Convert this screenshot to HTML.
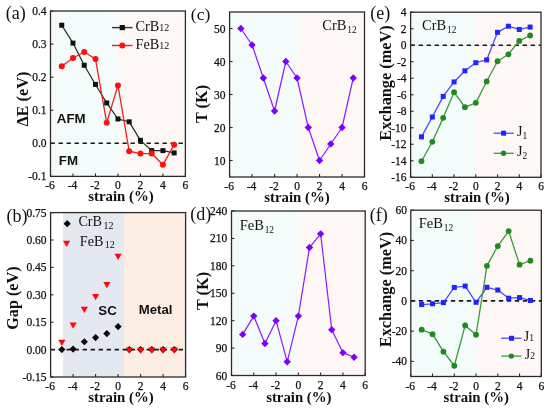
<!DOCTYPE html>
<html><head><meta charset="utf-8"><title>Figure</title>
<style>html,body{margin:0;padding:0;background:#fff;width:550px;height:409px;overflow:hidden}svg{display:block;will-change:transform}</style></head><body>
<svg width="550" height="409" viewBox="0 0 550 409">
<rect x="0" y="0" width="550" height="409" fill="#ffffff"/>
<rect x="50.5" y="11" width="67.45" height="165.4" fill="#f3fbfb"/>
<rect x="117.95" y="11" width="67.45" height="165.4" fill="#fdf8f5"/>
<line x1="50.5" y1="143.32" x2="185.4" y2="143.32" stroke="#1a1a1a" stroke-width="1.6" stroke-dasharray="4.4 3.6"/>
<polyline points="61.74,25.22 72.98,43.09 84.22,65.25 95.47,84.44 106.71,102.96 117.95,118.97 129.19,121.82 140.43,140.34 151.68,150.6 162.92,150.6 174.16,152.91" fill="none" stroke="#262626" stroke-width="1.2" stroke-linejoin="round"/>
<polyline points="61.74,66.24 72.98,57.97 84.22,52.02 95.47,58.97 106.71,122.81 117.95,85.43 129.19,151.26 140.43,153.57 151.68,153.57 162.92,164.82 174.16,144.64" fill="none" stroke="#f02020" stroke-width="1.3" stroke-linejoin="round"/>
<rect x="59.24" y="22.72" width="5" height="5" fill="#111111"/>
<rect x="70.48" y="40.59" width="5" height="5" fill="#111111"/>
<rect x="81.72" y="62.75" width="5" height="5" fill="#111111"/>
<rect x="92.97" y="81.94" width="5" height="5" fill="#111111"/>
<rect x="104.21" y="100.46" width="5" height="5" fill="#111111"/>
<rect x="115.45" y="116.47" width="5" height="5" fill="#111111"/>
<rect x="126.69" y="119.32" width="5" height="5" fill="#111111"/>
<rect x="137.93" y="137.84" width="5" height="5" fill="#111111"/>
<rect x="149.18" y="148.1" width="5" height="5" fill="#111111"/>
<rect x="160.42" y="148.1" width="5" height="5" fill="#111111"/>
<rect x="171.66" y="150.41" width="5" height="5" fill="#111111"/>
<circle cx="61.74" cy="66.24" r="3" fill="#ff1010"/>
<circle cx="72.98" cy="57.97" r="3" fill="#ff1010"/>
<circle cx="84.22" cy="52.02" r="3" fill="#ff1010"/>
<circle cx="95.47" cy="58.97" r="3" fill="#ff1010"/>
<circle cx="106.71" cy="122.81" r="3" fill="#ff1010"/>
<circle cx="117.95" cy="85.43" r="3" fill="#ff1010"/>
<circle cx="129.19" cy="151.26" r="3" fill="#ff1010"/>
<circle cx="140.43" cy="153.57" r="3" fill="#ff1010"/>
<circle cx="151.68" cy="153.57" r="3" fill="#ff1010"/>
<circle cx="162.92" cy="164.82" r="3" fill="#ff1010"/>
<circle cx="174.16" cy="144.64" r="3" fill="#ff1010"/>
<line x1="112" y1="27.6" x2="132.6" y2="27.6" stroke="#333" stroke-width="1.4"/>
<rect x="119.7" y="25" width="5.2" height="5.2" fill="#111111"/>
<line x1="112" y1="45.5" x2="132.6" y2="45.5" stroke="#f02020" stroke-width="1.4"/>
<circle cx="122.3" cy="45.5" r="3" fill="#ff1010"/>
<text x="135.5" y="31.4" font-size="14.3" font-family='"Liberation Serif", serif' fill="#111111">CrB<tspan font-size="10" dx="0" dy="0">12</tspan></text>
<text x="135.5" y="48.8" font-size="14.3" font-family='"Liberation Serif", serif' fill="#111111">FeB<tspan font-size="10" dx="0" dy="0">12</tspan></text>
<text x="56.8" y="122.9" font-size="13.3" text-anchor="start" font-weight="bold" font-family='"Liberation Sans", sans-serif' fill="#111" >AFM</text>
<text x="58.8" y="165.1" font-size="13.3" text-anchor="start" font-weight="bold" font-family='"Liberation Sans", sans-serif' fill="#111" >FM</text>
<rect x="50.5" y="11" width="134.9" height="165.4" fill="none" stroke="#2b2b2b" stroke-width="1.3"/>
<line x1="50.5" y1="176.4" x2="50.5" y2="173.4" stroke="#2b2b2b" stroke-width="1.1"/>
<text x="50" y="189.3" font-size="11.5" text-anchor="middle" font-weight="normal" font-family='"Liberation Serif", serif' fill="#111111" stroke="#111" stroke-width="0.25">-6</text>
<line x1="72.98" y1="176.4" x2="72.98" y2="173.4" stroke="#2b2b2b" stroke-width="1.1"/>
<text x="72.48" y="189.3" font-size="11.5" text-anchor="middle" font-weight="normal" font-family='"Liberation Serif", serif' fill="#111111" stroke="#111" stroke-width="0.25">-4</text>
<line x1="95.47" y1="176.4" x2="95.47" y2="173.4" stroke="#2b2b2b" stroke-width="1.1"/>
<text x="94.97" y="189.3" font-size="11.5" text-anchor="middle" font-weight="normal" font-family='"Liberation Serif", serif' fill="#111111" stroke="#111" stroke-width="0.25">-2</text>
<line x1="117.95" y1="176.4" x2="117.95" y2="173.4" stroke="#2b2b2b" stroke-width="1.1"/>
<text x="117.95" y="189.3" font-size="11.5" text-anchor="middle" font-weight="normal" font-family='"Liberation Serif", serif' fill="#111111" stroke="#111" stroke-width="0.25">0</text>
<line x1="140.43" y1="176.4" x2="140.43" y2="173.4" stroke="#2b2b2b" stroke-width="1.1"/>
<text x="140.43" y="189.3" font-size="11.5" text-anchor="middle" font-weight="normal" font-family='"Liberation Serif", serif' fill="#111111" stroke="#111" stroke-width="0.25">2</text>
<line x1="162.92" y1="176.4" x2="162.92" y2="173.4" stroke="#2b2b2b" stroke-width="1.1"/>
<text x="162.92" y="189.3" font-size="11.5" text-anchor="middle" font-weight="normal" font-family='"Liberation Serif", serif' fill="#111111" stroke="#111" stroke-width="0.25">4</text>
<line x1="185.4" y1="176.4" x2="185.4" y2="173.4" stroke="#2b2b2b" stroke-width="1.1"/>
<text x="185.4" y="189.3" font-size="11.5" text-anchor="middle" font-weight="normal" font-family='"Liberation Serif", serif' fill="#111111" stroke="#111" stroke-width="0.25">6</text>
<line x1="50.5" y1="11" x2="53.5" y2="11" stroke="#2b2b2b" stroke-width="1.1"/>
<text x="46.5" y="15" font-size="11.5" text-anchor="end" font-weight="normal" font-family='"Liberation Serif", serif' fill="#111111" stroke="#111" stroke-width="0.25">0.4</text>
<line x1="50.5" y1="44.08" x2="53.5" y2="44.08" stroke="#2b2b2b" stroke-width="1.1"/>
<text x="46.5" y="48.08" font-size="11.5" text-anchor="end" font-weight="normal" font-family='"Liberation Serif", serif' fill="#111111" stroke="#111" stroke-width="0.25">0.3</text>
<line x1="50.5" y1="77.16" x2="53.5" y2="77.16" stroke="#2b2b2b" stroke-width="1.1"/>
<text x="46.5" y="81.16" font-size="11.5" text-anchor="end" font-weight="normal" font-family='"Liberation Serif", serif' fill="#111111" stroke="#111" stroke-width="0.25">0.2</text>
<line x1="50.5" y1="110.24" x2="53.5" y2="110.24" stroke="#2b2b2b" stroke-width="1.1"/>
<text x="46.5" y="114.24" font-size="11.5" text-anchor="end" font-weight="normal" font-family='"Liberation Serif", serif' fill="#111111" stroke="#111" stroke-width="0.25">0.1</text>
<line x1="50.5" y1="143.32" x2="53.5" y2="143.32" stroke="#2b2b2b" stroke-width="1.1"/>
<text x="46.5" y="147.32" font-size="11.5" text-anchor="end" font-weight="normal" font-family='"Liberation Serif", serif' fill="#111111" stroke="#111" stroke-width="0.25">0.0</text>
<line x1="50.5" y1="176.4" x2="53.5" y2="176.4" stroke="#2b2b2b" stroke-width="1.1"/>
<text x="46.5" y="180.4" font-size="11.5" text-anchor="end" font-weight="normal" font-family='"Liberation Serif", serif' fill="#111111" stroke="#111" stroke-width="0.25">-0.1</text>
<text transform="translate(27.6,99.1) rotate(-90)" font-size="16.3" text-anchor="middle" font-weight="bold" font-family='"Liberation Serif", serif' fill="#111111">&#916;E (eV)</text>
<text x="121" y="201" font-size="14.8" text-anchor="middle" font-weight="bold" font-family='"Liberation Serif", serif' fill="#111111" >strain (%)</text>
<text x="5.8" y="18.6" font-size="18" text-anchor="start" font-weight="normal" font-family='"Liberation Serif", serif' fill="#111111" >(a)</text>
<rect x="63" y="212.6" width="61" height="164.4" fill="#e4e8f1"/>
<rect x="124" y="212.6" width="61.6" height="164.4" fill="#fcede3"/>
<line x1="50.6" y1="349.6" x2="185.6" y2="349.6" stroke="#1a1a1a" stroke-width="1.6" stroke-dasharray="4.4 3.6"/>
<path d="M61.85,346L65.45,349.6L61.85,353.2L58.25,349.6Z" fill="#0a0a0a"/>
<path d="M73.1,345.45L76.7,349.05L73.1,352.65L69.5,349.05Z" fill="#0a0a0a"/>
<path d="M84.35,338.15L87.95,341.75L84.35,345.35L80.75,341.75Z" fill="#0a0a0a"/>
<path d="M95.6,333.94L99.2,337.54L95.6,341.14L92,337.54Z" fill="#0a0a0a"/>
<path d="M106.85,329.93L110.45,333.53L106.85,337.13L103.25,333.53Z" fill="#0a0a0a"/>
<path d="M118.1,322.98L121.7,326.58L118.1,330.18L114.5,326.58Z" fill="#0a0a0a"/>
<path d="M129.35,346L132.95,349.6L129.35,353.2L125.75,349.6Z" fill="#0a0a0a"/>
<path d="M140.6,346L144.2,349.6L140.6,353.2L137,349.6Z" fill="#0a0a0a"/>
<path d="M151.85,346L155.45,349.6L151.85,353.2L148.25,349.6Z" fill="#0a0a0a"/>
<path d="M163.1,346L166.7,349.6L163.1,353.2L159.5,349.6Z" fill="#0a0a0a"/>
<path d="M174.35,346L177.95,349.6L174.35,353.2L170.75,349.6Z" fill="#0a0a0a"/>
<path d="M58.25,339.67L65.45,339.67L61.85,345.9Z" fill="#ff0a0a"/>
<path d="M69.5,322.5L76.7,322.5L73.1,328.73Z" fill="#ff0a0a"/>
<path d="M80.75,306.79L87.95,306.79L84.35,313.02Z" fill="#ff0a0a"/>
<path d="M92,294L99.2,294L95.6,300.24Z" fill="#ff0a0a"/>
<path d="M103.25,281.94L110.45,281.94L106.85,288.18Z" fill="#ff0a0a"/>
<path d="M114.5,253.81L121.7,253.81L118.1,260.05Z" fill="#ff0a0a"/>
<path d="M125.75,347.52L132.95,347.52L129.35,353.76Z" fill="#ff0a0a"/>
<path d="M137,347.52L144.2,347.52L140.6,353.76Z" fill="#ff0a0a"/>
<path d="M148.25,347.52L155.45,347.52L151.85,353.76Z" fill="#ff0a0a"/>
<path d="M159.5,347.52L166.7,347.52L163.1,353.76Z" fill="#ff0a0a"/>
<path d="M170.75,347.52L177.95,347.52L174.35,353.76Z" fill="#ff0a0a"/>
<path d="M67.2,220.1L70.8,223.7L67.2,227.3L63.6,223.7Z" fill="#0a0a0a"/>
<path d="M63,240.72L70.2,240.72L66.6,246.96Z" fill="#ff0a0a"/>
<text x="78.4" y="226.3" font-size="14.2" font-family='"Liberation Serif", serif' fill="#111111">CrB<tspan font-size="10" dx="1.4" dy="2.4">12</tspan></text>
<text x="79.8" y="246" font-size="14.2" font-family='"Liberation Serif", serif' fill="#111111">FeB<tspan font-size="10" dx="1.4" dy="2.4">12</tspan></text>
<text x="98.3" y="314.5" font-size="13.3" text-anchor="start" font-weight="bold" font-family='"Liberation Sans", sans-serif' fill="#111" >SC</text>
<text x="138.7" y="314.4" font-size="13.2" text-anchor="start" font-weight="bold" font-family='"Liberation Sans", sans-serif' fill="#111" >Metal</text>
<rect x="50.6" y="212.6" width="135" height="164.4" fill="none" stroke="#2b2b2b" stroke-width="1.3"/>
<line x1="50.6" y1="377" x2="50.6" y2="374" stroke="#2b2b2b" stroke-width="1.1"/>
<text x="50.1" y="390.3" font-size="11.5" text-anchor="middle" font-weight="normal" font-family='"Liberation Serif", serif' fill="#111111" stroke="#111" stroke-width="0.25">-6</text>
<line x1="73.1" y1="377" x2="73.1" y2="374" stroke="#2b2b2b" stroke-width="1.1"/>
<text x="72.6" y="390.3" font-size="11.5" text-anchor="middle" font-weight="normal" font-family='"Liberation Serif", serif' fill="#111111" stroke="#111" stroke-width="0.25">-4</text>
<line x1="95.6" y1="377" x2="95.6" y2="374" stroke="#2b2b2b" stroke-width="1.1"/>
<text x="95.1" y="390.3" font-size="11.5" text-anchor="middle" font-weight="normal" font-family='"Liberation Serif", serif' fill="#111111" stroke="#111" stroke-width="0.25">-2</text>
<line x1="118.1" y1="377" x2="118.1" y2="374" stroke="#2b2b2b" stroke-width="1.1"/>
<text x="118.1" y="390.3" font-size="11.5" text-anchor="middle" font-weight="normal" font-family='"Liberation Serif", serif' fill="#111111" stroke="#111" stroke-width="0.25">0</text>
<line x1="140.6" y1="377" x2="140.6" y2="374" stroke="#2b2b2b" stroke-width="1.1"/>
<text x="140.6" y="390.3" font-size="11.5" text-anchor="middle" font-weight="normal" font-family='"Liberation Serif", serif' fill="#111111" stroke="#111" stroke-width="0.25">2</text>
<line x1="163.1" y1="377" x2="163.1" y2="374" stroke="#2b2b2b" stroke-width="1.1"/>
<text x="163.1" y="390.3" font-size="11.5" text-anchor="middle" font-weight="normal" font-family='"Liberation Serif", serif' fill="#111111" stroke="#111" stroke-width="0.25">4</text>
<line x1="185.6" y1="377" x2="185.6" y2="374" stroke="#2b2b2b" stroke-width="1.1"/>
<text x="185.6" y="390.3" font-size="11.5" text-anchor="middle" font-weight="normal" font-family='"Liberation Serif", serif' fill="#111111" stroke="#111" stroke-width="0.25">6</text>
<line x1="50.6" y1="212.6" x2="53.6" y2="212.6" stroke="#2b2b2b" stroke-width="1.1"/>
<text x="46.5" y="216.6" font-size="11.5" text-anchor="end" font-weight="normal" font-family='"Liberation Serif", serif' fill="#111111" stroke="#111" stroke-width="0.25">0.75</text>
<line x1="50.6" y1="240" x2="53.6" y2="240" stroke="#2b2b2b" stroke-width="1.1"/>
<text x="46.5" y="244" font-size="11.5" text-anchor="end" font-weight="normal" font-family='"Liberation Serif", serif' fill="#111111" stroke="#111" stroke-width="0.25">0.60</text>
<line x1="50.6" y1="267.4" x2="53.6" y2="267.4" stroke="#2b2b2b" stroke-width="1.1"/>
<text x="46.5" y="271.4" font-size="11.5" text-anchor="end" font-weight="normal" font-family='"Liberation Serif", serif' fill="#111111" stroke="#111" stroke-width="0.25">0.45</text>
<line x1="50.6" y1="294.8" x2="53.6" y2="294.8" stroke="#2b2b2b" stroke-width="1.1"/>
<text x="46.5" y="298.8" font-size="11.5" text-anchor="end" font-weight="normal" font-family='"Liberation Serif", serif' fill="#111111" stroke="#111" stroke-width="0.25">0.30</text>
<line x1="50.6" y1="322.2" x2="53.6" y2="322.2" stroke="#2b2b2b" stroke-width="1.1"/>
<text x="46.5" y="326.2" font-size="11.5" text-anchor="end" font-weight="normal" font-family='"Liberation Serif", serif' fill="#111111" stroke="#111" stroke-width="0.25">0.15</text>
<line x1="50.6" y1="349.6" x2="53.6" y2="349.6" stroke="#2b2b2b" stroke-width="1.1"/>
<text x="46.5" y="353.6" font-size="11.5" text-anchor="end" font-weight="normal" font-family='"Liberation Serif", serif' fill="#111111" stroke="#111" stroke-width="0.25">0.00</text>
<line x1="50.6" y1="377" x2="53.6" y2="377" stroke="#2b2b2b" stroke-width="1.1"/>
<text x="46.5" y="381" font-size="11.5" text-anchor="end" font-weight="normal" font-family='"Liberation Serif", serif' fill="#111111" stroke="#111" stroke-width="0.25">-0.15</text>
<text transform="translate(18.3,298.1) rotate(-90)" font-size="16.2" text-anchor="middle" font-weight="bold" font-family='"Liberation Serif", serif' fill="#111111">Gap (eV)</text>
<text x="121" y="402.2" font-size="14.8" text-anchor="middle" font-weight="bold" font-family='"Liberation Serif", serif' fill="#111111" >strain (%)</text>
<text x="6.5" y="221.6" font-size="18" text-anchor="start" font-weight="normal" font-family='"Liberation Serif", serif' fill="#111111" >(b)</text>
<rect x="229.6" y="12" width="67.45" height="165" fill="#f3fbfb"/>
<rect x="297.05" y="12" width="67.45" height="165" fill="#fdf8f5"/>
<polyline points="240.84,28.5 252.08,45 263.32,78 274.57,111 285.81,61.5 297.05,78 308.29,127.5 319.53,160.5 330.77,144 342.02,127.5 353.26,78" fill="none" stroke="#8a1cff" stroke-width="1.2" stroke-linejoin="round"/>
<path d="M240.84,24.8L244.54,28.5L240.84,32.2L237.14,28.5Z" fill="#8000ff"/>
<path d="M252.08,41.3L255.78,45L252.08,48.7L248.38,45Z" fill="#8000ff"/>
<path d="M263.32,74.3L267.02,78L263.32,81.7L259.62,78Z" fill="#8000ff"/>
<path d="M274.57,107.3L278.27,111L274.57,114.7L270.87,111Z" fill="#8000ff"/>
<path d="M285.81,57.8L289.51,61.5L285.81,65.2L282.11,61.5Z" fill="#8000ff"/>
<path d="M297.05,74.3L300.75,78L297.05,81.7L293.35,78Z" fill="#8000ff"/>
<path d="M308.29,123.8L311.99,127.5L308.29,131.2L304.59,127.5Z" fill="#8000ff"/>
<path d="M319.53,156.8L323.23,160.5L319.53,164.2L315.83,160.5Z" fill="#8000ff"/>
<path d="M330.77,140.3L334.47,144L330.77,147.7L327.07,144Z" fill="#8000ff"/>
<path d="M342.02,123.8L345.72,127.5L342.02,131.2L338.32,127.5Z" fill="#8000ff"/>
<path d="M353.26,74.3L356.96,78L353.26,81.7L349.56,78Z" fill="#8000ff"/>
<text x="322.3" y="30" font-size="14.5" font-family='"Liberation Serif", serif' fill="#111111">CrB<tspan font-size="9.4" dx="0.8" dy="3">12</tspan></text>
<rect x="229.6" y="12" width="134.9" height="165" fill="none" stroke="#2b2b2b" stroke-width="1.3"/>
<line x1="229.6" y1="177" x2="229.6" y2="174" stroke="#2b2b2b" stroke-width="1.1"/>
<text x="229.1" y="189.6" font-size="11.5" text-anchor="middle" font-weight="normal" font-family='"Liberation Serif", serif' fill="#111111" stroke="#111" stroke-width="0.25">-6</text>
<line x1="252.08" y1="177" x2="252.08" y2="174" stroke="#2b2b2b" stroke-width="1.1"/>
<text x="251.58" y="189.6" font-size="11.5" text-anchor="middle" font-weight="normal" font-family='"Liberation Serif", serif' fill="#111111" stroke="#111" stroke-width="0.25">-4</text>
<line x1="274.57" y1="177" x2="274.57" y2="174" stroke="#2b2b2b" stroke-width="1.1"/>
<text x="274.07" y="189.6" font-size="11.5" text-anchor="middle" font-weight="normal" font-family='"Liberation Serif", serif' fill="#111111" stroke="#111" stroke-width="0.25">-2</text>
<line x1="297.05" y1="177" x2="297.05" y2="174" stroke="#2b2b2b" stroke-width="1.1"/>
<text x="297.05" y="189.6" font-size="11.5" text-anchor="middle" font-weight="normal" font-family='"Liberation Serif", serif' fill="#111111" stroke="#111" stroke-width="0.25">0</text>
<line x1="319.53" y1="177" x2="319.53" y2="174" stroke="#2b2b2b" stroke-width="1.1"/>
<text x="319.53" y="189.6" font-size="11.5" text-anchor="middle" font-weight="normal" font-family='"Liberation Serif", serif' fill="#111111" stroke="#111" stroke-width="0.25">2</text>
<line x1="342.02" y1="177" x2="342.02" y2="174" stroke="#2b2b2b" stroke-width="1.1"/>
<text x="342.02" y="189.6" font-size="11.5" text-anchor="middle" font-weight="normal" font-family='"Liberation Serif", serif' fill="#111111" stroke="#111" stroke-width="0.25">4</text>
<line x1="364.5" y1="177" x2="364.5" y2="174" stroke="#2b2b2b" stroke-width="1.1"/>
<text x="364.5" y="189.6" font-size="11.5" text-anchor="middle" font-weight="normal" font-family='"Liberation Serif", serif' fill="#111111" stroke="#111" stroke-width="0.25">6</text>
<line x1="229.6" y1="28.5" x2="232.6" y2="28.5" stroke="#2b2b2b" stroke-width="1.1"/>
<text x="225.6" y="32.5" font-size="11.5" text-anchor="end" font-weight="normal" font-family='"Liberation Serif", serif' fill="#111111" stroke="#111" stroke-width="0.25">50</text>
<line x1="229.6" y1="61.5" x2="232.6" y2="61.5" stroke="#2b2b2b" stroke-width="1.1"/>
<text x="225.6" y="65.5" font-size="11.5" text-anchor="end" font-weight="normal" font-family='"Liberation Serif", serif' fill="#111111" stroke="#111" stroke-width="0.25">40</text>
<line x1="229.6" y1="94.5" x2="232.6" y2="94.5" stroke="#2b2b2b" stroke-width="1.1"/>
<text x="225.6" y="98.5" font-size="11.5" text-anchor="end" font-weight="normal" font-family='"Liberation Serif", serif' fill="#111111" stroke="#111" stroke-width="0.25">30</text>
<line x1="229.6" y1="127.5" x2="232.6" y2="127.5" stroke="#2b2b2b" stroke-width="1.1"/>
<text x="225.6" y="131.5" font-size="11.5" text-anchor="end" font-weight="normal" font-family='"Liberation Serif", serif' fill="#111111" stroke="#111" stroke-width="0.25">20</text>
<line x1="229.6" y1="160.5" x2="232.6" y2="160.5" stroke="#2b2b2b" stroke-width="1.1"/>
<text x="225.6" y="164.5" font-size="11.5" text-anchor="end" font-weight="normal" font-family='"Liberation Serif", serif' fill="#111111" stroke="#111" stroke-width="0.25">10</text>
<text transform="translate(207,104) rotate(-90)" font-size="16.3" text-anchor="middle" font-weight="bold" font-family='"Liberation Serif", serif' fill="#111111">T (K)</text>
<text x="297" y="201.5" font-size="14.8" text-anchor="middle" font-weight="bold" font-family='"Liberation Serif", serif' fill="#111111" >strain (%)</text>
<text x="190.8" y="20.2" font-size="17.6" text-anchor="start" font-weight="normal" font-family='"Liberation Serif", serif' fill="#111111" >(c)</text>
<rect x="231.5" y="211" width="66.85" height="164.5" fill="#f3fbfb"/>
<rect x="298.35" y="211" width="66.85" height="164.5" fill="#fdf8f5"/>
<polyline points="242.64,334.38 253.78,316.1 264.93,343.51 276.07,320.67 287.21,361.79 298.35,316.1 309.49,247.56 320.63,233.85 331.77,329.81 342.92,352.65 354.06,357.22" fill="none" stroke="#8a1cff" stroke-width="1.2" stroke-linejoin="round"/>
<path d="M242.64,330.68L246.34,334.38L242.64,338.07L238.94,334.38Z" fill="#8000ff"/>
<path d="M253.78,312.4L257.48,316.1L253.78,319.8L250.08,316.1Z" fill="#8000ff"/>
<path d="M264.93,339.81L268.62,343.51L264.93,347.21L261.23,343.51Z" fill="#8000ff"/>
<path d="M276.07,316.97L279.77,320.67L276.07,324.37L272.37,320.67Z" fill="#8000ff"/>
<path d="M287.21,358.09L290.91,361.79L287.21,365.49L283.51,361.79Z" fill="#8000ff"/>
<path d="M298.35,312.4L302.05,316.1L298.35,319.8L294.65,316.1Z" fill="#8000ff"/>
<path d="M309.49,243.86L313.19,247.56L309.49,251.26L305.79,247.56Z" fill="#8000ff"/>
<path d="M320.63,230.15L324.33,233.85L320.63,237.55L316.93,233.85Z" fill="#8000ff"/>
<path d="M331.77,326.11L335.47,329.81L331.77,333.51L328.07,329.81Z" fill="#8000ff"/>
<path d="M342.92,348.95L346.62,352.65L342.92,356.35L339.22,352.65Z" fill="#8000ff"/>
<path d="M354.06,353.52L357.76,357.22L354.06,360.92L350.36,357.22Z" fill="#8000ff"/>
<text x="239.7" y="229.7" font-size="14.5" font-family='"Liberation Serif", serif' fill="#111111">FeB<tspan font-size="9.4" dx="0.8" dy="3">12</tspan></text>
<rect x="231.5" y="211" width="133.7" height="164.5" fill="none" stroke="#2b2b2b" stroke-width="1.3"/>
<line x1="231.5" y1="375.5" x2="231.5" y2="372.5" stroke="#2b2b2b" stroke-width="1.1"/>
<text x="231" y="389" font-size="11.5" text-anchor="middle" font-weight="normal" font-family='"Liberation Serif", serif' fill="#111111" stroke="#111" stroke-width="0.25">-6</text>
<line x1="253.78" y1="375.5" x2="253.78" y2="372.5" stroke="#2b2b2b" stroke-width="1.1"/>
<text x="253.28" y="389" font-size="11.5" text-anchor="middle" font-weight="normal" font-family='"Liberation Serif", serif' fill="#111111" stroke="#111" stroke-width="0.25">-4</text>
<line x1="276.07" y1="375.5" x2="276.07" y2="372.5" stroke="#2b2b2b" stroke-width="1.1"/>
<text x="275.57" y="389" font-size="11.5" text-anchor="middle" font-weight="normal" font-family='"Liberation Serif", serif' fill="#111111" stroke="#111" stroke-width="0.25">-2</text>
<line x1="298.35" y1="375.5" x2="298.35" y2="372.5" stroke="#2b2b2b" stroke-width="1.1"/>
<text x="298.35" y="389" font-size="11.5" text-anchor="middle" font-weight="normal" font-family='"Liberation Serif", serif' fill="#111111" stroke="#111" stroke-width="0.25">0</text>
<line x1="320.63" y1="375.5" x2="320.63" y2="372.5" stroke="#2b2b2b" stroke-width="1.1"/>
<text x="320.63" y="389" font-size="11.5" text-anchor="middle" font-weight="normal" font-family='"Liberation Serif", serif' fill="#111111" stroke="#111" stroke-width="0.25">2</text>
<line x1="342.92" y1="375.5" x2="342.92" y2="372.5" stroke="#2b2b2b" stroke-width="1.1"/>
<text x="342.92" y="389" font-size="11.5" text-anchor="middle" font-weight="normal" font-family='"Liberation Serif", serif' fill="#111111" stroke="#111" stroke-width="0.25">4</text>
<line x1="365.2" y1="375.5" x2="365.2" y2="372.5" stroke="#2b2b2b" stroke-width="1.1"/>
<text x="365.2" y="389" font-size="11.5" text-anchor="middle" font-weight="normal" font-family='"Liberation Serif", serif' fill="#111111" stroke="#111" stroke-width="0.25">6</text>
<line x1="231.5" y1="211" x2="234.5" y2="211" stroke="#2b2b2b" stroke-width="1.1"/>
<text x="227.2" y="215" font-size="11.5" text-anchor="end" font-weight="normal" font-family='"Liberation Serif", serif' fill="#111111" stroke="#111" stroke-width="0.25">240</text>
<line x1="231.5" y1="238.42" x2="234.5" y2="238.42" stroke="#2b2b2b" stroke-width="1.1"/>
<text x="227.2" y="242.42" font-size="11.5" text-anchor="end" font-weight="normal" font-family='"Liberation Serif", serif' fill="#111111" stroke="#111" stroke-width="0.25">210</text>
<line x1="231.5" y1="265.83" x2="234.5" y2="265.83" stroke="#2b2b2b" stroke-width="1.1"/>
<text x="227.2" y="269.83" font-size="11.5" text-anchor="end" font-weight="normal" font-family='"Liberation Serif", serif' fill="#111111" stroke="#111" stroke-width="0.25">180</text>
<line x1="231.5" y1="293.25" x2="234.5" y2="293.25" stroke="#2b2b2b" stroke-width="1.1"/>
<text x="227.2" y="297.25" font-size="11.5" text-anchor="end" font-weight="normal" font-family='"Liberation Serif", serif' fill="#111111" stroke="#111" stroke-width="0.25">150</text>
<line x1="231.5" y1="320.67" x2="234.5" y2="320.67" stroke="#2b2b2b" stroke-width="1.1"/>
<text x="227.2" y="324.67" font-size="11.5" text-anchor="end" font-weight="normal" font-family='"Liberation Serif", serif' fill="#111111" stroke="#111" stroke-width="0.25">120</text>
<line x1="231.5" y1="348.08" x2="234.5" y2="348.08" stroke="#2b2b2b" stroke-width="1.1"/>
<text x="227.2" y="352.08" font-size="11.5" text-anchor="end" font-weight="normal" font-family='"Liberation Serif", serif' fill="#111111" stroke="#111" stroke-width="0.25">90</text>
<line x1="231.5" y1="375.5" x2="234.5" y2="375.5" stroke="#2b2b2b" stroke-width="1.1"/>
<text x="227.2" y="379.5" font-size="11.5" text-anchor="end" font-weight="normal" font-family='"Liberation Serif", serif' fill="#111111" stroke="#111" stroke-width="0.25">60</text>
<text transform="translate(208.4,291) rotate(-90)" font-size="16.3" text-anchor="middle" font-weight="bold" font-family='"Liberation Serif", serif' fill="#111111">T (K)</text>
<text x="298.8" y="401.8" font-size="14.8" text-anchor="middle" font-weight="bold" font-family='"Liberation Serif", serif' fill="#111111" >strain (%)</text>
<text x="190.2" y="220" font-size="18" text-anchor="start" font-weight="normal" font-family='"Liberation Serif", serif' fill="#111111" >(d)</text>
<rect x="410.6" y="12.2" width="65.8" height="165.1" fill="#f3fbfb"/>
<rect x="476.4" y="12.2" width="64.6" height="165.1" fill="#fdf8f5"/>
<line x1="410.6" y1="45.22" x2="541" y2="45.22" stroke="#1a1a1a" stroke-width="1.6" stroke-dasharray="4.4 3.6"/>
<polyline points="421.47,136.85 432.33,117.04 443.2,96.4 454.07,81.95 464.93,70.81 475.8,62.72 486.67,59.91 497.53,32.34 508.4,26.23 519.27,29.45 530.13,27.06" fill="none" stroke="#4a4aff" stroke-width="1.3" stroke-linejoin="round"/>
<polyline points="421.47,161.2 432.33,141.8 443.2,117.86 454.07,92.27 464.93,107.13 475.8,102.84 486.67,81.46 497.53,61.23 508.4,54.3 519.27,40.93 530.13,35.48" fill="none" stroke="#3a9a3a" stroke-width="1.3" stroke-linejoin="round"/>
<rect x="418.97" y="134.35" width="5" height="5" fill="#2323ff"/>
<rect x="429.83" y="114.54" width="5" height="5" fill="#2323ff"/>
<rect x="440.7" y="93.9" width="5" height="5" fill="#2323ff"/>
<rect x="451.57" y="79.45" width="5" height="5" fill="#2323ff"/>
<rect x="462.43" y="68.31" width="5" height="5" fill="#2323ff"/>
<rect x="473.3" y="60.22" width="5" height="5" fill="#2323ff"/>
<rect x="484.17" y="57.41" width="5" height="5" fill="#2323ff"/>
<rect x="495.03" y="29.84" width="5" height="5" fill="#2323ff"/>
<rect x="505.9" y="23.73" width="5" height="5" fill="#2323ff"/>
<rect x="516.77" y="26.95" width="5" height="5" fill="#2323ff"/>
<rect x="527.63" y="24.56" width="5" height="5" fill="#2323ff"/>
<circle cx="421.47" cy="161.2" r="2.9" fill="#1f8a1f"/>
<circle cx="432.33" cy="141.8" r="2.9" fill="#1f8a1f"/>
<circle cx="443.2" cy="117.86" r="2.9" fill="#1f8a1f"/>
<circle cx="454.07" cy="92.27" r="2.9" fill="#1f8a1f"/>
<circle cx="464.93" cy="107.13" r="2.9" fill="#1f8a1f"/>
<circle cx="475.8" cy="102.84" r="2.9" fill="#1f8a1f"/>
<circle cx="486.67" cy="81.46" r="2.9" fill="#1f8a1f"/>
<circle cx="497.53" cy="61.23" r="2.9" fill="#1f8a1f"/>
<circle cx="508.4" cy="54.3" r="2.9" fill="#1f8a1f"/>
<circle cx="519.27" cy="40.93" r="2.9" fill="#1f8a1f"/>
<circle cx="530.13" cy="35.48" r="2.9" fill="#1f8a1f"/>
<line x1="493.6" y1="133.2" x2="513.7" y2="133.2" stroke="#4a4aff" stroke-width="1.3"/>
<rect x="501.1" y="130.7" width="5" height="5" fill="#2323ff"/>
<line x1="493.6" y1="153.3" x2="513.7" y2="153.3" stroke="#3a9a3a" stroke-width="1.3"/>
<circle cx="503.5" cy="153.3" r="2.7" fill="#1f8a1f"/>
<text x="517" y="136.1" font-size="14" font-family='"Liberation Serif", serif' fill="#111111">J<tspan font-size="9.5" dx="0" dy="2.8">1</tspan></text>
<text x="517" y="156" font-size="14" font-family='"Liberation Serif", serif' fill="#111111">J<tspan font-size="9.5" dx="0" dy="2.8">2</tspan></text>
<text x="422" y="30" font-size="14.5" font-family='"Liberation Serif", serif' fill="#111111">CrB<tspan font-size="9.4" dx="0.8" dy="3">12</tspan></text>
<rect x="410.6" y="12.2" width="130.4" height="165.1" fill="none" stroke="#2b2b2b" stroke-width="1.3"/>
<line x1="410.6" y1="177.3" x2="410.6" y2="174.3" stroke="#2b2b2b" stroke-width="1.1"/>
<text x="410.1" y="189.6" font-size="11.5" text-anchor="middle" font-weight="normal" font-family='"Liberation Serif", serif' fill="#111111" stroke="#111" stroke-width="0.25">-6</text>
<line x1="432.33" y1="177.3" x2="432.33" y2="174.3" stroke="#2b2b2b" stroke-width="1.1"/>
<text x="431.83" y="189.6" font-size="11.5" text-anchor="middle" font-weight="normal" font-family='"Liberation Serif", serif' fill="#111111" stroke="#111" stroke-width="0.25">-4</text>
<line x1="454.07" y1="177.3" x2="454.07" y2="174.3" stroke="#2b2b2b" stroke-width="1.1"/>
<text x="453.57" y="189.6" font-size="11.5" text-anchor="middle" font-weight="normal" font-family='"Liberation Serif", serif' fill="#111111" stroke="#111" stroke-width="0.25">-2</text>
<line x1="475.8" y1="177.3" x2="475.8" y2="174.3" stroke="#2b2b2b" stroke-width="1.1"/>
<text x="475.8" y="189.6" font-size="11.5" text-anchor="middle" font-weight="normal" font-family='"Liberation Serif", serif' fill="#111111" stroke="#111" stroke-width="0.25">0</text>
<line x1="497.53" y1="177.3" x2="497.53" y2="174.3" stroke="#2b2b2b" stroke-width="1.1"/>
<text x="497.53" y="189.6" font-size="11.5" text-anchor="middle" font-weight="normal" font-family='"Liberation Serif", serif' fill="#111111" stroke="#111" stroke-width="0.25">2</text>
<line x1="519.27" y1="177.3" x2="519.27" y2="174.3" stroke="#2b2b2b" stroke-width="1.1"/>
<text x="519.27" y="189.6" font-size="11.5" text-anchor="middle" font-weight="normal" font-family='"Liberation Serif", serif' fill="#111111" stroke="#111" stroke-width="0.25">4</text>
<line x1="541" y1="177.3" x2="541" y2="174.3" stroke="#2b2b2b" stroke-width="1.1"/>
<text x="541" y="189.6" font-size="11.5" text-anchor="middle" font-weight="normal" font-family='"Liberation Serif", serif' fill="#111111" stroke="#111" stroke-width="0.25">6</text>
<line x1="410.6" y1="12.2" x2="413.6" y2="12.2" stroke="#2b2b2b" stroke-width="1.1"/>
<text x="406.5" y="16.2" font-size="11.5" text-anchor="end" font-weight="normal" font-family='"Liberation Serif", serif' fill="#111111" stroke="#111" stroke-width="0.25">4</text>
<line x1="410.6" y1="28.71" x2="413.6" y2="28.71" stroke="#2b2b2b" stroke-width="1.1"/>
<text x="406.5" y="32.71" font-size="11.5" text-anchor="end" font-weight="normal" font-family='"Liberation Serif", serif' fill="#111111" stroke="#111" stroke-width="0.25">2</text>
<line x1="410.6" y1="45.22" x2="413.6" y2="45.22" stroke="#2b2b2b" stroke-width="1.1"/>
<text x="406.5" y="49.22" font-size="11.5" text-anchor="end" font-weight="normal" font-family='"Liberation Serif", serif' fill="#111111" stroke="#111" stroke-width="0.25">0</text>
<line x1="410.6" y1="61.73" x2="413.6" y2="61.73" stroke="#2b2b2b" stroke-width="1.1"/>
<text x="406.5" y="65.73" font-size="11.5" text-anchor="end" font-weight="normal" font-family='"Liberation Serif", serif' fill="#111111" stroke="#111" stroke-width="0.25">-2</text>
<line x1="410.6" y1="78.24" x2="413.6" y2="78.24" stroke="#2b2b2b" stroke-width="1.1"/>
<text x="406.5" y="82.24" font-size="11.5" text-anchor="end" font-weight="normal" font-family='"Liberation Serif", serif' fill="#111111" stroke="#111" stroke-width="0.25">-4</text>
<line x1="410.6" y1="94.75" x2="413.6" y2="94.75" stroke="#2b2b2b" stroke-width="1.1"/>
<text x="406.5" y="98.75" font-size="11.5" text-anchor="end" font-weight="normal" font-family='"Liberation Serif", serif' fill="#111111" stroke="#111" stroke-width="0.25">-6</text>
<line x1="410.6" y1="111.26" x2="413.6" y2="111.26" stroke="#2b2b2b" stroke-width="1.1"/>
<text x="406.5" y="115.26" font-size="11.5" text-anchor="end" font-weight="normal" font-family='"Liberation Serif", serif' fill="#111111" stroke="#111" stroke-width="0.25">-8</text>
<line x1="410.6" y1="127.77" x2="413.6" y2="127.77" stroke="#2b2b2b" stroke-width="1.1"/>
<text x="406.5" y="131.77" font-size="11.5" text-anchor="end" font-weight="normal" font-family='"Liberation Serif", serif' fill="#111111" stroke="#111" stroke-width="0.25">-10</text>
<line x1="410.6" y1="144.28" x2="413.6" y2="144.28" stroke="#2b2b2b" stroke-width="1.1"/>
<text x="406.5" y="148.28" font-size="11.5" text-anchor="end" font-weight="normal" font-family='"Liberation Serif", serif' fill="#111111" stroke="#111" stroke-width="0.25">-12</text>
<line x1="410.6" y1="160.79" x2="413.6" y2="160.79" stroke="#2b2b2b" stroke-width="1.1"/>
<text x="406.5" y="164.79" font-size="11.5" text-anchor="end" font-weight="normal" font-family='"Liberation Serif", serif' fill="#111111" stroke="#111" stroke-width="0.25">-14</text>
<line x1="410.6" y1="177.3" x2="413.6" y2="177.3" stroke="#2b2b2b" stroke-width="1.1"/>
<text x="406.5" y="181.3" font-size="11.5" text-anchor="end" font-weight="normal" font-family='"Liberation Serif", serif' fill="#111111" stroke="#111" stroke-width="0.25">-16</text>
<text transform="translate(390.5,83) rotate(-90)" font-size="16.3" text-anchor="middle" font-weight="bold" font-family='"Liberation Serif", serif' fill="#111111">Exchange (meV)</text>
<text x="477" y="201.7" font-size="14.8" text-anchor="middle" font-weight="bold" font-family='"Liberation Serif", serif' fill="#111111" >strain (%)</text>
<text x="370.3" y="18.5" font-size="18" text-anchor="start" font-weight="normal" font-family='"Liberation Serif", serif' fill="#111111" >(e)</text>
<rect x="410.8" y="210.2" width="65.6" height="166.3" fill="#f3fbfb"/>
<rect x="476.4" y="210.2" width="64.9" height="166.3" fill="#fdf8f5"/>
<line x1="410.8" y1="300.91" x2="541.3" y2="300.91" stroke="#1a1a1a" stroke-width="1.6" stroke-dasharray="4.4 3.6"/>
<polyline points="421.68,304.54 432.55,303.78 443.43,302.57 454.3,287.45 465.18,286.09 476.05,302.27 486.92,287.3 497.8,290.02 508.67,298.19 519.55,297.58 530.42,300.46" fill="none" stroke="#4a4aff" stroke-width="1.3" stroke-linejoin="round"/>
<polyline points="421.68,329.63 432.55,334.17 443.43,351.71 454.3,365.77 465.18,325.4 476.05,334.77 486.92,265.83 497.8,246.03 508.67,231.06 519.55,264.63 530.42,260.69" fill="none" stroke="#3a9a3a" stroke-width="1.3" stroke-linejoin="round"/>
<rect x="419.18" y="302.04" width="5" height="5" fill="#2323ff"/>
<rect x="430.05" y="301.28" width="5" height="5" fill="#2323ff"/>
<rect x="440.93" y="300.07" width="5" height="5" fill="#2323ff"/>
<rect x="451.8" y="284.95" width="5" height="5" fill="#2323ff"/>
<rect x="462.68" y="283.59" width="5" height="5" fill="#2323ff"/>
<rect x="473.55" y="299.77" width="5" height="5" fill="#2323ff"/>
<rect x="484.42" y="284.8" width="5" height="5" fill="#2323ff"/>
<rect x="495.3" y="287.52" width="5" height="5" fill="#2323ff"/>
<rect x="506.17" y="295.69" width="5" height="5" fill="#2323ff"/>
<rect x="517.05" y="295.08" width="5" height="5" fill="#2323ff"/>
<rect x="527.92" y="297.96" width="5" height="5" fill="#2323ff"/>
<circle cx="421.68" cy="329.63" r="2.9" fill="#1f8a1f"/>
<circle cx="432.55" cy="334.17" r="2.9" fill="#1f8a1f"/>
<circle cx="443.43" cy="351.71" r="2.9" fill="#1f8a1f"/>
<circle cx="454.3" cy="365.77" r="2.9" fill="#1f8a1f"/>
<circle cx="465.18" cy="325.4" r="2.9" fill="#1f8a1f"/>
<circle cx="476.05" cy="334.77" r="2.9" fill="#1f8a1f"/>
<circle cx="486.92" cy="265.83" r="2.9" fill="#1f8a1f"/>
<circle cx="497.8" cy="246.03" r="2.9" fill="#1f8a1f"/>
<circle cx="508.67" cy="231.06" r="2.9" fill="#1f8a1f"/>
<circle cx="519.55" cy="264.63" r="2.9" fill="#1f8a1f"/>
<circle cx="530.42" cy="260.69" r="2.9" fill="#1f8a1f"/>
<line x1="501.3" y1="338.2" x2="521.5" y2="338.2" stroke="#4a4aff" stroke-width="1.3"/>
<rect x="509" y="335.8" width="5" height="5" fill="#2323ff"/>
<line x1="501.3" y1="356.1" x2="521.5" y2="356.1" stroke="#3a9a3a" stroke-width="1.3"/>
<circle cx="511.3" cy="356.1" r="2.7" fill="#1f8a1f"/>
<text x="523.8" y="340.9" font-size="14" font-family='"Liberation Serif", serif' fill="#111111">J<tspan font-size="9.5" dx="0" dy="0.5">1</tspan></text>
<text x="524.7" y="359" font-size="14" font-family='"Liberation Serif", serif' fill="#111111">J<tspan font-size="9.5" dx="0" dy="0.2">2</tspan></text>
<text x="418.8" y="228" font-size="14.5" font-family='"Liberation Serif", serif' fill="#111111">FeB<tspan font-size="9.4" dx="0.8" dy="3">12</tspan></text>
<rect x="410.8" y="210.2" width="130.5" height="166.3" fill="none" stroke="#2b2b2b" stroke-width="1.3"/>
<line x1="410.8" y1="376.5" x2="410.8" y2="373.5" stroke="#2b2b2b" stroke-width="1.1"/>
<text x="410.3" y="389.6" font-size="11.5" text-anchor="middle" font-weight="normal" font-family='"Liberation Serif", serif' fill="#111111" stroke="#111" stroke-width="0.25">-6</text>
<line x1="432.55" y1="376.5" x2="432.55" y2="373.5" stroke="#2b2b2b" stroke-width="1.1"/>
<text x="432.05" y="389.6" font-size="11.5" text-anchor="middle" font-weight="normal" font-family='"Liberation Serif", serif' fill="#111111" stroke="#111" stroke-width="0.25">-4</text>
<line x1="454.3" y1="376.5" x2="454.3" y2="373.5" stroke="#2b2b2b" stroke-width="1.1"/>
<text x="453.8" y="389.6" font-size="11.5" text-anchor="middle" font-weight="normal" font-family='"Liberation Serif", serif' fill="#111111" stroke="#111" stroke-width="0.25">-2</text>
<line x1="476.05" y1="376.5" x2="476.05" y2="373.5" stroke="#2b2b2b" stroke-width="1.1"/>
<text x="476.05" y="389.6" font-size="11.5" text-anchor="middle" font-weight="normal" font-family='"Liberation Serif", serif' fill="#111111" stroke="#111" stroke-width="0.25">0</text>
<line x1="497.8" y1="376.5" x2="497.8" y2="373.5" stroke="#2b2b2b" stroke-width="1.1"/>
<text x="497.8" y="389.6" font-size="11.5" text-anchor="middle" font-weight="normal" font-family='"Liberation Serif", serif' fill="#111111" stroke="#111" stroke-width="0.25">2</text>
<line x1="519.55" y1="376.5" x2="519.55" y2="373.5" stroke="#2b2b2b" stroke-width="1.1"/>
<text x="519.55" y="389.6" font-size="11.5" text-anchor="middle" font-weight="normal" font-family='"Liberation Serif", serif' fill="#111111" stroke="#111" stroke-width="0.25">4</text>
<line x1="541.3" y1="376.5" x2="541.3" y2="373.5" stroke="#2b2b2b" stroke-width="1.1"/>
<text x="541.3" y="389.6" font-size="11.5" text-anchor="middle" font-weight="normal" font-family='"Liberation Serif", serif' fill="#111111" stroke="#111" stroke-width="0.25">6</text>
<line x1="410.8" y1="210.2" x2="413.8" y2="210.2" stroke="#2b2b2b" stroke-width="1.1"/>
<text x="407" y="214.2" font-size="11.5" text-anchor="end" font-weight="normal" font-family='"Liberation Serif", serif' fill="#111111" stroke="#111" stroke-width="0.25">60</text>
<line x1="410.8" y1="240.44" x2="413.8" y2="240.44" stroke="#2b2b2b" stroke-width="1.1"/>
<text x="407" y="244.44" font-size="11.5" text-anchor="end" font-weight="normal" font-family='"Liberation Serif", serif' fill="#111111" stroke="#111" stroke-width="0.25">40</text>
<line x1="410.8" y1="270.67" x2="413.8" y2="270.67" stroke="#2b2b2b" stroke-width="1.1"/>
<text x="407" y="274.67" font-size="11.5" text-anchor="end" font-weight="normal" font-family='"Liberation Serif", serif' fill="#111111" stroke="#111" stroke-width="0.25">20</text>
<line x1="410.8" y1="300.91" x2="413.8" y2="300.91" stroke="#2b2b2b" stroke-width="1.1"/>
<text x="407" y="304.91" font-size="11.5" text-anchor="end" font-weight="normal" font-family='"Liberation Serif", serif' fill="#111111" stroke="#111" stroke-width="0.25">0</text>
<line x1="410.8" y1="331.15" x2="413.8" y2="331.15" stroke="#2b2b2b" stroke-width="1.1"/>
<text x="407" y="335.15" font-size="11.5" text-anchor="end" font-weight="normal" font-family='"Liberation Serif", serif' fill="#111111" stroke="#111" stroke-width="0.25">-20</text>
<line x1="410.8" y1="361.38" x2="413.8" y2="361.38" stroke="#2b2b2b" stroke-width="1.1"/>
<text x="407" y="365.38" font-size="11.5" text-anchor="end" font-weight="normal" font-family='"Liberation Serif", serif' fill="#111111" stroke="#111" stroke-width="0.25">-40</text>
<text transform="translate(390.5,289.5) rotate(-90)" font-size="16.3" text-anchor="middle" font-weight="bold" font-family='"Liberation Serif", serif' fill="#111111">Exchange (meV)</text>
<text x="476.2" y="402.2" font-size="14.8" text-anchor="middle" font-weight="bold" font-family='"Liberation Serif", serif' fill="#111111" >strain (%)</text>
<text x="369.8" y="220.7" font-size="18" text-anchor="start" font-weight="normal" font-family='"Liberation Serif", serif' fill="#111111" >(f)</text>
</svg>
</body></html>
